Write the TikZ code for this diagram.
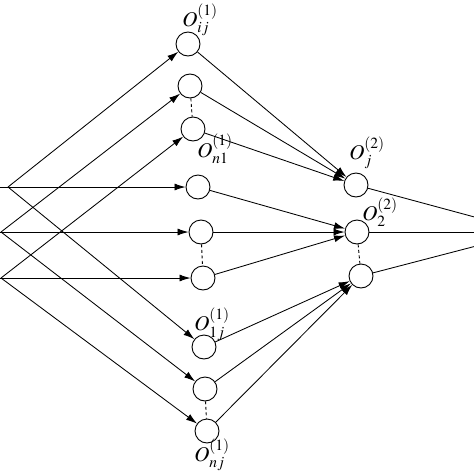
\documentclass[tikz,border=0pt]{standalone}
\usepackage{mathptmx}
\usetikzlibrary{arrows.meta}
\tikzset{
  neuron/.style={circle,draw,line width=0.9pt,minimum size=24pt,inner sep=0pt},
  link/.style={line width=0.85pt,-{Latex[length=11pt,width=7pt]}},
  plain/.style={line width=0.85pt},
  gap/.style={line width=0.9pt,dashed,dash pattern=on 3pt off 2.5pt},
  lab/.style={font=\fontsize{21}{23}\selectfont}
}

\begin{document}
\begin{tikzpicture}[x=1pt,y=-1pt]
            \useasboundingbox (0,0) rectangle (474,474);
            \clip (0,0) rectangle (474,474);
            % hidden layer 1
            \node[neuron] (t1) at (188,44) {};
            \node[neuron] (t2) at (190,86) {};
            \node[neuron] (t3) at (193,129) {};
            \node[neuron] (m1) at (198,187) {};
            \node[neuron] (m2) at (201,232) {};
            \node[neuron] (m3) at (203,278) {};
            \node[neuron] (b1) at (204,347) {};
            \node[neuron] (b2) at (205,389) {};
            \node[neuron] (b3) at (207,431) {};
            % hidden layer 2
            \node[neuron] (h1) at (356,185) {};
            \node[neuron] (h2) at (357,232) {};
            \node[neuron] (h3) at (361,276) {};
            % inputs and output
            \coordinate (e1) at (-2,187);
            \coordinate (e2) at (-2,232);
            \coordinate (e3) at (-2,278);
            \coordinate (x1) at (8,187);
            \coordinate (x2) at (1,232);
            \coordinate (x3) at (1,278);
            \coordinate (out) at (530,232);
            \draw[link] (e1) -- (m1);
            \draw[link] (e2) -- (m2);
            \draw[link] (e3) -- (m3);
            \draw[link] (x1) -- (t1);
            \draw[link] (x2) -- (t2);
            \draw[link] (x3) -- (t3);
            \draw[link] (x1) -- (b1);
            \draw[link] (x2) -- (b2);
            \draw[link] (x3) -- (b3);
            \foreach \a in {t1,t2,t3} \draw[link] (\a) -- (h1);
            \foreach \a in {m1,m2,m3} \draw[link] (\a) -- (h2);
            \foreach \a in {b1,b2,b3} \draw[link] (\a) -- (h3);
            \foreach \a in {h1,h2,h3} \draw[plain] (\a) -- (out);
            \draw[gap] (t2) -- (t3);
            \draw[gap] (m2) -- (m3);
            \draw[gap] (b2) -- (b3);
            \draw[gap] (h2) -- (h3);
            % labels
            \node[lab] (lt1) at (200,20) {$O_{ij}^{(1)}$};
            \node[lab] (lt3) at (215,149) {$O_{n1}^{(1)}$};
            \node[lab] (lh1) at (367,153) {$O_{j}^{(2)}$};
            \node[lab] (lh2) at (380,212) {$O_{2}^{(2)}$};
            \node[lab] (lb1) at (212,324) {$O_{1j}^{(1)}$};
            \node[lab] (lb3) at (212,455) {$O_{nj}^{(1)}$};
        \end{tikzpicture}
\end{document}
